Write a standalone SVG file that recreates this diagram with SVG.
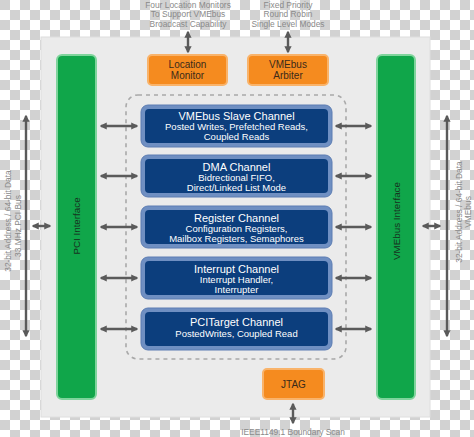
<svg xmlns="http://www.w3.org/2000/svg" width="474" height="437" viewBox="0 0 474 437">
<style>
text{font-family:"Liberation Sans",Arial,sans-serif}
.note{font-size:8.4px;fill:#8a8a8a;text-anchor:middle}
.orng{fill:#f58b1f;stroke:#f9b36a;stroke-width:2}
.otxt{font-size:10px;fill:#3a2a1a;text-anchor:middle}
.grn{fill:#10a64a;stroke:#7fd49c;stroke-width:2}
.gtxt{font-size:9.8px;fill:#17331f;text-anchor:middle}
.ch-o{fill:#6f8fc2;stroke:#5c7db3;stroke-width:1}
.ch-i{fill:#0c3e7d}
.t1{font-size:11px;fill:#fff;text-anchor:middle}
.t2{font-size:9.5px;fill:#fff;text-anchor:middle}
.ar{stroke:#5a5a5a;stroke-width:2.4;fill:none;marker-start:url(#ah);marker-end:url(#ah)}
</style>
<defs>
<pattern id="chk" width="20" height="20" patternUnits="userSpaceOnUse">
<rect width="20" height="20" fill="#ffffff"/>
<rect x="0" y="0" width="10" height="10" fill="#d2d2d2"/>
<rect x="10" y="10" width="10" height="10" fill="#d2d2d2"/>
</pattern>
<marker id="ah" viewBox="0 0 10 10" refX="8" refY="5" markerWidth="3" markerHeight="3" orient="auto-start-reverse">
<path d="M0,0 L10,5 L0,10 z" fill="#5a5a5a"/>
</marker>
</defs>
<rect width="474" height="437" fill="url(#chk)"/>
<rect x="41" y="37" width="389" height="380" fill="#ebebeb" stroke="#dedede" stroke-width="1"/>
<rect x="126" y="95" width="220" height="264" rx="12" fill="none" stroke="#a9a9a9" stroke-width="1.6" stroke-dasharray="4 4"/>

<g id="connectors">
<line class="ar" x1="26" y1="116" x2="26" y2="336"/>
<line class="ar" x1="33" y1="226" x2="50" y2="226"/>
<line class="ar" x1="447" y1="116" x2="447" y2="336"/>
<line class="ar" x1="423" y1="226" x2="440" y2="226"/>
<line class="ar" x1="188" y1="32" x2="188" y2="52"/>
<line class="ar" x1="288" y1="32" x2="288" y2="52"/>
<line class="ar" x1="293" y1="404" x2="293" y2="423"/>
<line class="ar" x1="101" y1="126" x2="137" y2="126"/>
<line class="ar" x1="101" y1="176" x2="137" y2="176"/>
<line class="ar" x1="101" y1="227" x2="137" y2="227"/>
<line class="ar" x1="101" y1="278" x2="137" y2="278"/>
<line class="ar" x1="101" y1="329" x2="137" y2="329"/>
<line class="ar" x1="336" y1="126" x2="371" y2="126"/>
<line class="ar" x1="336" y1="176" x2="371" y2="176"/>
<line class="ar" x1="336" y1="227" x2="371" y2="227"/>
<line class="ar" x1="336" y1="278" x2="371" y2="278"/>
<line class="ar" x1="336" y1="329" x2="371" y2="329"/>
</g>

<g id="note-left">
<text class="note" transform="translate(11,221) rotate(-90)">32-bit Address / 64-bit Data</text>
<text class="note" transform="translate(21,226) rotate(-90)">33 MHz PCI Bus</text>
</g>
<g id="note-right">
<text class="note" transform="translate(462,212) rotate(-90)">32-bit Address / 64-bit Data</text>
<text class="note" transform="translate(471,212) rotate(-90)">VMEbus</text>
</g>
<g id="note-top-left">
<text class="note" x="188" y="7.5">Four Location Monitors</text>
<text class="note" x="188" y="17">To Support VMEbus</text>
<text class="note" x="188" y="26.5">Broadcast Capability</text>
</g>
<g id="note-top-right">
<text class="note" x="288" y="7.5">Fixed Priority</text>
<text class="note" x="288" y="17">Round Robin</text>
<text class="note" x="288" y="26.5">Single Level Modes</text>
</g>
<g id="note-bottom">
<text class="note" x="293" y="435">IEEE1149.1 Boundary Scan</text>
</g>

<g id="pci-interface">
<rect class="grn" x="57" y="55" width="39" height="344" rx="5"/>
<text class="gtxt" transform="translate(80,226) rotate(-90)">PCI Interface</text>
</g>
<g id="vmebus-interface">
<rect class="grn" x="377" y="55" width="38" height="344" rx="5"/>
<text class="gtxt" transform="translate(400,221) rotate(-90)">VMEbus Interface</text>
</g>

<g id="location-monitor">
<rect class="orng" x="148" y="55" width="79" height="30" rx="4"/>
<text class="otxt" x="187.5" y="68">Location</text>
<text class="otxt" x="187.5" y="79">Monitor</text>
</g>
<g id="vmebus-arbiter">
<rect class="orng" x="248" y="55" width="80" height="30" rx="4"/>
<text class="otxt" x="288" y="68">VMEbus</text>
<text class="otxt" x="288" y="79">Arbiter</text>
</g>
<g id="jtag">
<rect class="orng" x="263" y="369" width="61" height="30" rx="4"/>
<text class="otxt" x="293.5" y="388">JTAG</text>
</g>

<g id="vmebus-slave-channel">
<rect class="ch-o" x="141" y="105" width="191" height="42" rx="7"/>
<rect class="ch-i" x="145" y="109" width="183" height="34" rx="4"/>
<text class="t1" x="236.5" y="120">VMEbus Slave Channel</text>
<text class="t2" x="236.5" y="130">Posted Writes, Prefetched Reads,</text>
<text class="t2" x="236.5" y="139.5">Coupled Reads</text>
</g>
<g id="dma-channel">
<rect class="ch-o" x="141" y="155" width="191" height="42" rx="7"/>
<rect class="ch-i" x="145" y="159" width="183" height="34" rx="4"/>
<text class="t1" x="236.5" y="171">DMA Channel</text>
<text class="t2" x="236.5" y="181">Bidrectional FIFO,</text>
<text class="t2" x="236.5" y="190.5">Direct/Linked List Mode</text>
</g>
<g id="register-channel">
<rect class="ch-o" x="141" y="206" width="191" height="42" rx="7"/>
<rect class="ch-i" x="145" y="210" width="183" height="34" rx="4"/>
<text class="t1" x="236.5" y="222">Register Channel</text>
<text class="t2" x="236.5" y="232">Configuration Registers,</text>
<text class="t2" x="236.5" y="241.5">Mailbox Registers, Semaphores</text>
</g>
<g id="interrupt-channel">
<rect class="ch-o" x="141" y="257" width="191" height="42" rx="7"/>
<rect class="ch-i" x="145" y="261" width="183" height="34" rx="4"/>
<text class="t1" x="236.5" y="273">Interrupt Channel</text>
<text class="t2" x="236.5" y="283">Interrupt Handler,</text>
<text class="t2" x="236.5" y="292.5">Interrupter</text>
</g>
<g id="pcitarget-channel">
<rect class="ch-o" x="141" y="308" width="191" height="42" rx="7"/>
<rect class="ch-i" x="145" y="312" width="183" height="34" rx="4"/>
<text class="t1" x="236.5" y="326">PCITarget Channel</text>
<text class="t2" x="236.5" y="337">PostedWrites, Coupled Read</text>
</g>
</svg>
